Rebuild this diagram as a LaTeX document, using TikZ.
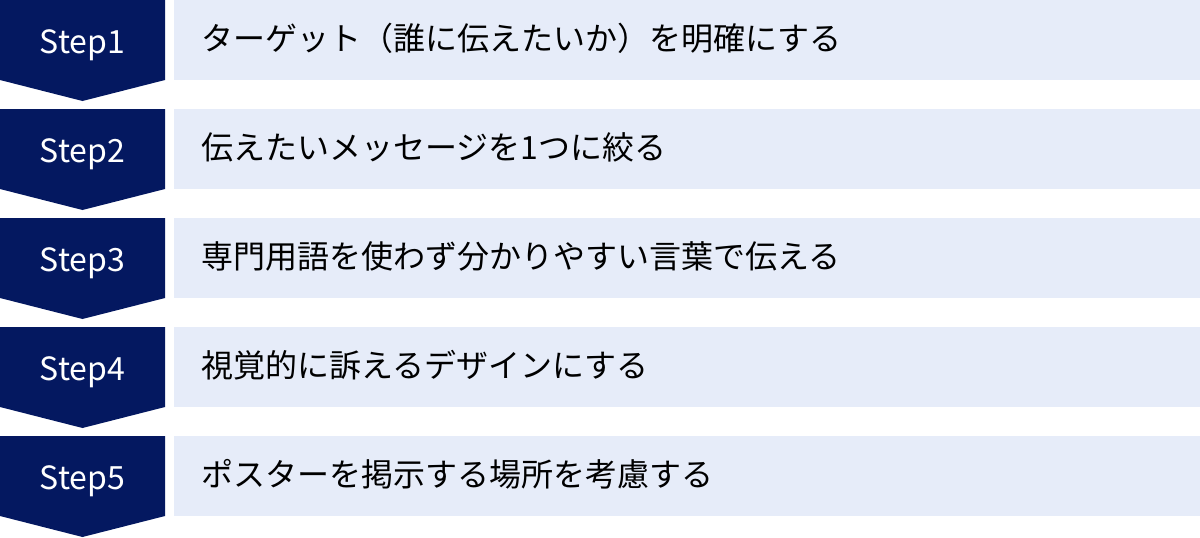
\documentclass[tikz,border=0pt]{standalone}
\usepackage{fontspec}
\setmainfont{Noto Sans CJK JP}
\usepackage{tikz}
\definecolor{navy}{RGB}{4,24,96}
\definecolor{paleblue}{RGB}{230,236,249}
\tikzset{
  steplabel/.style={text=white, inner sep=0, anchor=base, font=\fontsize{32}{38}\selectfont},
  steptext/.style={text=black, inner sep=0, anchor=base west, font=\fontsize{32}{38}\selectfont}
}
\begin{document}
\begin{tikzpicture}[x=1pt,y=-1pt]
\useasboundingbox (0,0) rectangle (1200,538) ;
% Step1
\fill[navy] (0,0) -- (165,0) -- (165,80) -- (82.5,101) -- (0,80) -- cycle ;
\fill[paleblue] (174,0) rectangle (1200,80) ;
\node[steplabel] (step1) at (82.5,53.5) {Step1} ;
\node[steptext] (text1) at (201,50.5) {ターゲット（誰に伝えたいか）を明確にする} ;
% Step2
\fill[navy] (0,109) -- (165,109) -- (165,189) -- (82.5,210) -- (0,189) -- cycle ;
\fill[paleblue] (174,109) rectangle (1200,189) ;
\node[steplabel] (step2) at (82.5,162.5) {Step2} ;
\node[steptext] (text2) at (201,159.5) {伝えたいメッセージを1つに絞る} ;
% Step3
\fill[navy] (0,218) -- (165,218) -- (165,298) -- (82.5,319) -- (0,298) -- cycle ;
\fill[paleblue] (174,218) rectangle (1200,298) ;
\node[steplabel] (step3) at (82.5,271.5) {Step3} ;
\node[steptext] (text3) at (201,268.5) {専門用語を使わず分かりやすい言葉で伝える} ;
% Step4
\fill[navy] (0,327) -- (165,327) -- (165,407) -- (82.5,428) -- (0,407) -- cycle ;
\fill[paleblue] (174,327) rectangle (1200,407) ;
\node[steplabel] (step4) at (82.5,380.5) {Step4} ;
\node[steptext] (text4) at (201,377.5) {視覚的に訴えるデザインにする} ;
% Step5
\fill[navy] (0,436) -- (165,436) -- (165,516) -- (82.5,537) -- (0,516) -- cycle ;
\fill[paleblue] (174,436) rectangle (1200,516) ;
\node[steplabel] (step5) at (82.5,489.5) {Step5} ;
\node[steptext] (text5) at (201,486.5) {ポスターを掲示する場所を考慮する} ;
\end{tikzpicture}
\end{document}
